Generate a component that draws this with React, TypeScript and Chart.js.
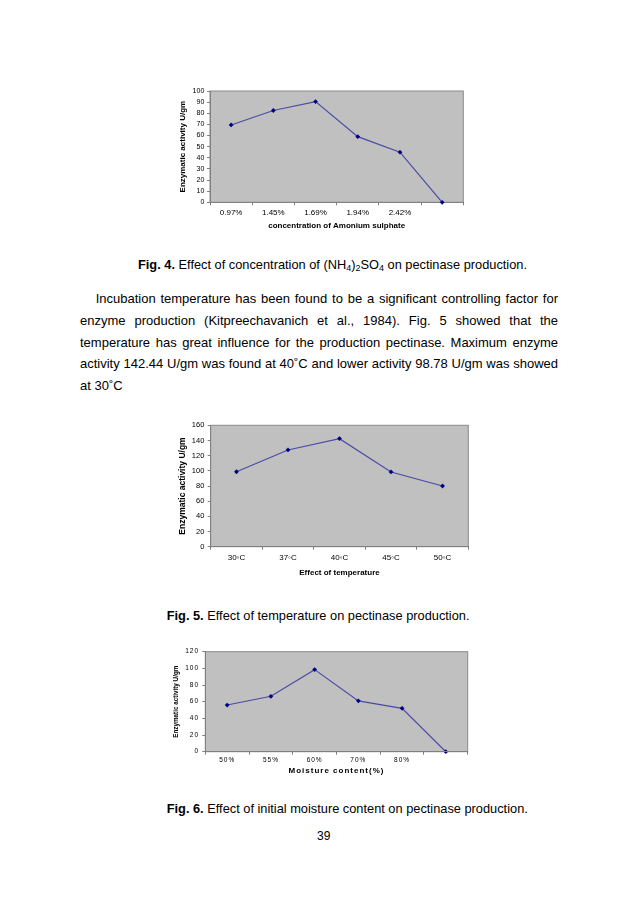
import React, { useEffect, useRef } from "react";
import { Chart, registerables } from "chart.js";

Chart.register(...registerables);

// ---------- data ----------
const fig4Categories = ["0.97%", "1.45%", "1.69%", "1.94%", "2.42%", ""];
const fig4Values = [69.5, 82.5, 90.5, 59, 45, 0];
const fig4YMax = 100;
const fig4YStep = 10;

const fig5Categories = ["30◦C", "37◦C", "40◦C", "45◦C", "50◦C"];
const fig5Values = [98.78, 127.5, 142.44, 98.5, 80];
const fig5YMax = 160;
const fig5YStep = 20;

const fig6Categories = ["50%", "55%", "60%", "70%", "80%", ""];
const fig6Values = [56, 66.5, 98.5, 61, 52, 0];
const fig6YMax = 120;
const fig6YStep = 20;

const yTitleText = "Enzymatic activity U/gm";

const FONT = "'Liberation Sans', Arial, Helvetica, sans-serif";

type Spec = {
  labels: string[];
  values: number[];
  yMax: number;
  yStep: number;
  padTop: number;
  padRight: number;
  yWidth: number;
  xHeight: number;
  yTickSize: number;
  yTickPad: number;
  yTitleSize: number;
  yTitlePad: number;
  xTickSize: number;
  xTickPad: number;
  xTitle: string;
  xTitleSize: number;
  xTitlePad: number;
  spacing?: string;
};

const plotBg = {
  id: "plotBg",
  beforeDraw(chart: any) {
    const { ctx, chartArea: a } = chart;
    ctx.save();
    ctx.fillStyle = "#C0C0C0";
    ctx.fillRect(a.left, a.top, a.right - a.left, a.bottom - a.top);
    ctx.strokeStyle = "#8a8a8a";
    ctx.lineWidth = 1;
    ctx.strokeRect(a.left, a.top, a.right - a.left, a.bottom - a.top);
    ctx.restore();
  },
  afterDatasetsDraw(chart: any, _args: any, opts: any) {
    if (opts && opts.spacing) chart.ctx.letterSpacing = opts.spacing;
  },
  afterDraw(chart: any) {
    chart.ctx.letterSpacing = "0px";
  },
};

function makeConfig(s: Spec): any {
  const late = s.spacing ? 1 : undefined;
  return {
    type: "line",
    data: {
      labels: s.labels,
      datasets: [
        {
          data: s.values,
          borderColor: "#4a4aa6",
          borderWidth: 1.2,
          pointBackgroundColor: "#000080",
          pointBorderColor: "#000080",
          pointBorderWidth: 0,
          pointStyle: "rectRot",
          pointRadius: 2.4,
          tension: 0,
          clip: false,
        },
      ],
    },
    plugins: [plotBg],
    options: {
      responsive: false,
      animation: false,
      events: [],
      layout: { padding: { top: s.padTop, right: s.padRight, left: 0, bottom: 0 } },
      plugins: {
        legend: { display: false },
        tooltip: { enabled: false },
        plotBg: { spacing: s.spacing },
      },
      scales: {
        x: {
          type: "category",
          offset: true,
          grid: {
            display: true,
            drawOnChartArea: false,
            drawTicks: true,
            tickLength: 3,
            color: "#808080",
            offset: true,
            z: late,
          },
          border: { display: true, color: "#808080", z: late },
          ticks: {
            font: { family: FONT, size: s.xTickSize },
            color: "#000",
            padding: s.xTickPad,
            maxRotation: 0,
            minRotation: 0,
            autoSkip: false,
            z: late,
          },
          title: {
            display: true,
            text: s.xTitle,
            color: "#000",
            font: { family: FONT, size: s.xTitleSize, weight: "bold" },
            padding: s.xTitlePad,
          },
          afterFit(sc: any) {
            sc.height = s.xHeight;
          },
        },
        y: {
          min: 0,
          max: s.yMax,
          grid: {
            display: true,
            drawOnChartArea: false,
            drawTicks: true,
            tickLength: 3,
            color: "#808080",
          },
          border: { display: true, color: "#808080" },
          ticks: {
            stepSize: s.yStep,
            autoSkip: false,
            font: { family: FONT, size: s.yTickSize },
            color: "#000",
            padding: s.yTickPad,
            z: late,
          },
          title: {
            display: true,
            text: yTitleText,
            color: "#000",
            font: { family: FONT, size: s.yTitleSize, weight: "bold" },
            padding: s.yTitlePad,
          },
          afterFit(sc: any) {
            sc.width = s.yWidth;
          },
        },
      },
    },
  };
}

function ChartBox(props: { spec: Spec; left: number; top: number; width: number; height: number }) {
  const ref = useRef<HTMLCanvasElement | null>(null);
  useEffect(() => {
    if (!ref.current) return;
    const chart = new Chart(ref.current, makeConfig(props.spec));
    return () => chart.destroy();
  }, []);
  return (
    <div style={{ position: "absolute", left: props.left, top: props.top, width: props.width, height: props.height }}>
      <canvas ref={ref} width={props.width} height={props.height} style={{ display: "block" }} />
    </div>
  );
}

const fig4Spec: Spec = {
  labels: fig4Categories,
  values: fig4Values,
  yMax: fig4YMax,
  yStep: fig4YStep,
  padTop: 11,
  padRight: 6.7,
  yWidth: 50,
  xHeight: 37.7,
  yTickSize: 7,
  yTickPad: 2.7,
  yTitleSize: 8,
  yTitlePad: 17.9,
  xTickSize: 8,
  xTickPad: 3,
  xTitle: "concentration of Amonium sulphate",
  xTitleSize: 8,
  xTitlePad: 9.5,
};

const fig5Spec: Spec = {
  labels: fig5Categories,
  values: fig5Values,
  yMax: fig5YMax,
  yStep: fig5YStep,
  padTop: 10.3,
  padRight: 6.7,
  yWidth: 50.7,
  xHeight: 43.3,
  yTickSize: 7.5,
  yTickPad: 3.4,
  yTitleSize: 8.5,
  yTitlePad: 17.6,
  xTickSize: 8,
  xTickPad: 3.2,
  xTitle: "Effect of temperature",
  xTitleSize: 8,
  xTitlePad: 12.9,
};

const fig6Spec: Spec = {
  labels: fig6Categories,
  values: fig6Values,
  yMax: fig6YMax,
  yStep: fig6YStep,
  padTop: 11.7,
  padRight: 7.3,
  yWidth: 50.3,
  xHeight: 33.3,
  yTickSize: 6.5,
  yTickPad: 3.3,
  yTitleSize: 6.3,
  yTitlePad: 17.4,
  xTickSize: 6.5,
  xTickPad: 2.1,
  xTitle: "Moisture content(%)",
  xTitleSize: 8,
  xTitlePad: 9.5,
  spacing: "1px",
};

const textStyle: React.CSSProperties = {
  position: "absolute",
  fontFamily: FONT,
  fontSize: 13,
  lineHeight: "22px",
  color: "#000",
  whiteSpace: "nowrap",
};

const captionStyle: React.CSSProperties = { ...textStyle, fontSize: 12.8 };

const bodyLines = [
  "Incubation temperature has been found to be a significant controlling factor for",
  "enzyme production (Kitpreechavanich et al., 1984). Fig. 5 showed that the",
  "temperature has great influence for the production pectinase. Maximum enzyme",
  "activity 142.44 U/gm was found at 40˚C and lower activity 98.78 U/gm was showed",
  "at 30˚C",
];

const subStyle: React.CSSProperties = { fontSize: 9, verticalAlign: "-2px", lineHeight: 0 };

export default function App() {
  return (
    <div style={{ position: "absolute", left: 0, top: 0, width: 638, height: 902, background: "#fff", overflow: "hidden" }}>
      <ChartBox spec={fig4Spec} left={160} top={80} width={310} height={160} />
      <div style={{ ...captionStyle, left: 138, top: 265 - 11.5 }}>
        <b>Fig. 4.</b> Effect of concentration of (NH<span style={subStyle}>4</span>)<span style={subStyle}>2</span>SO
        <span style={subStyle}>4</span> on pectinase production.
      </div>
      {bodyLines.map((line, i) => {
        const last = i === bodyLines.length - 1;
        const left = i === 0 ? 95.7 : 80;
        return (
          <div
            key={i}
            style={{
              ...textStyle,
              left,
              top: 299.3 + i * 21.85 - 11.5,
              width: 558 - left,
              whiteSpace: "normal",
              textAlign: last ? "left" : "justify",
              textAlignLast: last ? "left" : "justify",
            }}
          >
            {line}
          </div>
        );
      })}
      <ChartBox spec={fig5Spec} left={160} top={415} width={315} height={175} />
      <div style={{ ...captionStyle, left: 166.7, top: 616.7 - 11.5 }}>
        <b>Fig. 5.</b> Effect of temperature on pectinase production.
      </div>
      <ChartBox spec={fig6Spec} left={155} top={640} width={320} height={145} />
      <div style={{ ...captionStyle, left: 166.7, top: 809 - 11.5 }}>
        <b>Fig. 6.</b> Effect of initial moisture content on pectinase production.
      </div>
      <div style={{ ...textStyle, fontSize: 12, left: 317, top: 836 - 11.5 }}>39</div>
    </div>
  );
}
